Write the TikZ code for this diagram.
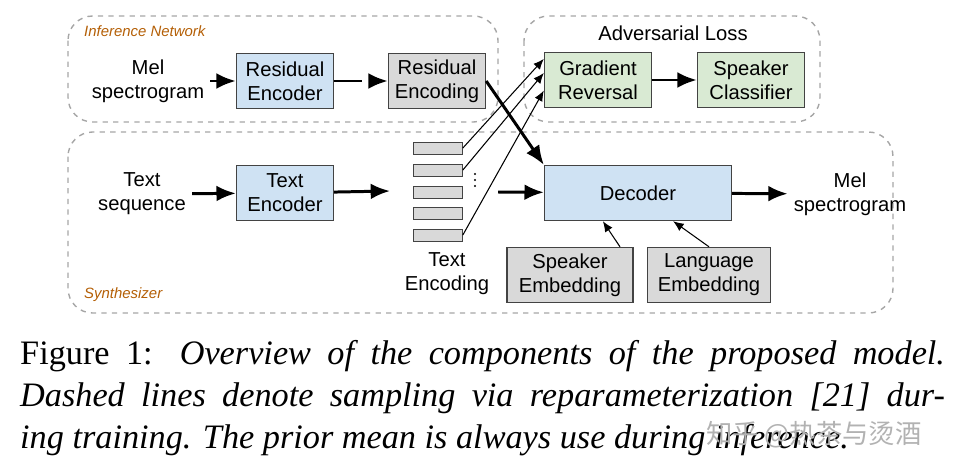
\documentclass[tikz,border=0pt]{standalone}
\usepackage{fontspec}
\setmainfont{Liberation Serif}
\newfontfamily\diagfont{Liberation Sans}
\newfontfamily\cjk{Noto Sans CJK SC}
\usepackage{xcolor}
\usetikzlibrary{shapes, arrows.meta, positioning}
\definecolor{encblue}{RGB}{207,226,243}
\definecolor{encgray}{RGB}{217,217,217}
\definecolor{advgreen}{RGB}{217,234,211}
\definecolor{edgegray}{RGB}{67,67,67}
\definecolor{tagbrown}{RGB}{180,95,6}

\begin{document}
\begin{tikzpicture}[
        x=0.02cm, y=-0.02cm,
        font=\diagfont\fontsize{11.5}{13.5}\selectfont,
        block/.style={rectangle, draw=edgegray, thick, align=center, minimum width=1.94cm, minimum height=1.1cm, inner sep=1pt},
        group/.style={draw=gray!70, dashed, thick, rounded corners=14pt},
        tag/.style={font=\diagfont\fontsize{8.5}{10}\selectfont\itshape, text=tagbrown, anchor=west},
        bar/.style={rectangle, draw=edgegray, fill=encgray, minimum width=0.98cm, minimum height=0.24cm, inner sep=0pt},
        arrow/.style={line width=1.7pt,-{Latex[length=11pt,width=9pt]}},
        thin/.style={semithick,-{Latex[length=6pt,width=5pt]}},
        caption/.style={anchor=west, font=\fontsize{19.5}{23}\selectfont}
    ]
    \useasboundingbox (0,0) rectangle (959,473);

    % groups
    \draw [group] (68,16) rectangle (498,122);
    \draw [group] (524,16) rectangle (820,122);
    \draw [group] (68,132) rectangle (893,313);
    \node [tag] (inftag) at (78,31) {Inference Network};
    \node [tag] (syntag) at (78,295) {Synthesizer};
    \node (advtitle) at (673,33) {Adversarial Loss};

    % inference network
    \node [align=center] (melin) at (148,81) {Mel\\spectrogram};
    \node [block, fill=encblue] (resenc) at (285,81) {Residual\\Encoder};
    \node [block, fill=encgray] (rescode) at (437,81) {Residual\\Encoding};

    % adversarial loss
    \node [block, fill=advgreen, minimum width=2.14cm] (gradrev) at (598,80) {Gradient\\Reversal};
    \node [block, fill=advgreen, minimum width=2.14cm] (spkcls) at (751,80) {Speaker\\Classifier};

    % synthesizer
    \node [align=center] (textin) at (142,194) {Text\\sequence};
    \node [block, fill=encblue] (textenc) at (285,193) {Text\\Encoder};
    \foreach \i/\yy in {1/148, 2/170, 3/192, 4/213, 5/235}
        \node [bar] (bar\i) at (438,\yy) {};
    \foreach \yy in {174, 180, 186}
        \fill (475,\yy) circle (0.7pt);
    \coordinate (stackin) at (390,191);
    \coordinate (stackout) at (498,192);
    \node [align=center] (textcode) at (447,274) {Text\\Encoding};
    \node [block, fill=encblue, minimum width=3.74cm] (decoder) at (638,193) {Decoder};
    \node [align=center] (melout) at (850,194) {Mel\\spectrogram};
    \node [block, fill=encgray, minimum width=2.52cm] (spkemb) at (570,275) {Speaker\\Embedding};
    \node [block, fill=encgray, minimum width=2.46cm] (langemb) at (709,275) {Language\\Embedding};

    % connectors
    \draw [arrow] (melin) -- (resenc);
    \draw [arrow, dash pattern=on 16pt off 6pt] (resenc) -- (rescode);
    \draw [arrow] (gradrev) -- (spkcls);
    \draw [arrow] (textin) -- (textenc);
    \draw [arrow] (textenc) -- (stackin);
    \draw [arrow] (stackout) -- (decoder);
    \draw [arrow] (rescode.east) -- (decoder.north west);
    \draw [arrow] (decoder) -- (melout);
    \draw [thin] (bar1.east) -- ([yshift=12pt]gradrev.west);
    \draw [thin] (bar2.east) -- ([yshift=4pt]gradrev.west);
    \draw [thin] (bar5.east) -- ([yshift=-6pt]gradrev.west);
    \draw [thin] ([xshift=1cm]spkemb.north) -- ([xshift=-20pt]decoder.south);
    \draw [thin] (langemb.north) -- ([xshift=20pt]decoder.south);

    % caption
    \node [caption] (cap1) at (14,356) {\makebox[18.5cm][s]{Figure 1: \textit{Overview of the components of the proposed model.}}};
    \node [caption] (cap2) at (14,398) {\makebox[18.5cm][s]{\textit{Dashed lines denote sampling via reparameterization [21] dur-}}};
    \node [caption] (cap3) at (14,440) {\textit{ing training. The prior mean is always use during inference.}};
    \node [anchor=west, text=gray!60, font=\cjk\fontsize{15}{18}\selectfont] (mark) at (700,435) {知乎 @热茶与烫酒};
\end{tikzpicture}
\end{document}
